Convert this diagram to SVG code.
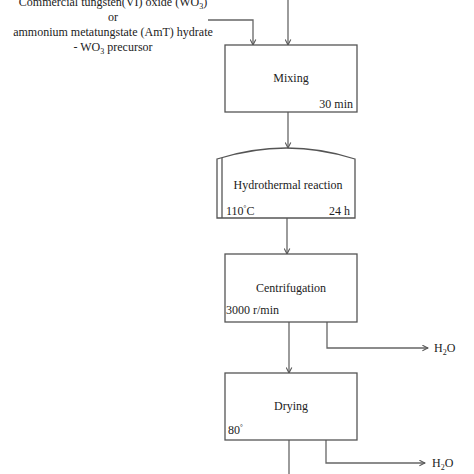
<svg xmlns="http://www.w3.org/2000/svg" width="474" height="474" viewBox="0 0 474 474">
<style>
.box{fill:#fff;stroke:#555;stroke-width:1.3}
.ln{fill:none;stroke:#666;stroke-width:1.3}
text{font-family:"Liberation Serif","Times New Roman",serif;font-size:12px;fill:#222}
.c{text-anchor:middle}
.e{text-anchor:end}
</style>
<defs>
<marker id="ah" viewBox="0 0 10 10" refX="9" refY="5" markerWidth="7" markerHeight="7" orient="auto" markerUnits="userSpaceOnUse">
<path d="M1,1 L9,5 L1,9" fill="none" stroke="#555" stroke-width="1.5"/>
</marker>
</defs>
<rect width="474" height="474" fill="#fff"/>
<g id="input">
<text class="c" x="113" y="6">Commercial tungsten(VI) oxide (WO<tspan font-size="8" dy="3">3</tspan><tspan dy="-3">)</tspan></text>
<text class="c" x="113" y="21">or</text>
<text class="c" x="113" y="36">ammonium metatungstate (AmT) hydrate</text>
<text class="c" x="113" y="51">- WO<tspan font-size="8" dy="3">3</tspan><tspan dy="-3"> precursor</tspan></text>
</g>
<g id="connectors">
<path class="ln" d="M208,20 H253 V45" marker-end="url(#ah)"/>
<path class="ln" d="M288,0 V45" marker-end="url(#ah)"/>
<path class="ln" d="M288,112 V148" marker-end="url(#ah)"/>
<path class="ln" d="M287,218 V254" marker-end="url(#ah)"/>
<path class="ln" d="M289,322 V373" marker-end="url(#ah)"/>
<path class="ln" d="M327,322 V348 H428" marker-end="url(#ah)"/>
<path class="ln" d="M289,440 V474"/>
<path class="ln" d="M326,440 V463 H425" marker-end="url(#ah)"/>
</g>
<g id="mixing">
<rect class="box" x="225" y="45" width="132" height="67"/>
<text class="c" x="291" y="82">Mixing</text>
<text class="e" x="353" y="108">30 min</text>
</g>
<g id="hydrothermal">
<path class="box" d="M217,218 V159 Q287,137 355,159 V218 Z"/>
<line class="box" x1="222" y1="158" x2="222" y2="218"/>
<text class="c" x="288" y="189">Hydrothermal reaction</text>
<text x="226" y="215">110<tspan font-size="7" dy="-5">°</tspan><tspan dy="5">C</tspan></text>
<text class="e" x="350" y="215">24 h</text>
</g>
<g id="centrifugation">
<rect class="box" x="225" y="254" width="132" height="68"/>
<text class="c" x="291" y="292">Centrifugation</text>
<text x="226" y="314">3000 r/min</text>
</g>
<g id="drying">
<rect class="box" x="225" y="373" width="132" height="67"/>
<text class="c" x="291" y="410">Drying</text>
<text x="228" y="434">80<tspan font-size="7" dy="-5">°</tspan></text>
</g>
<g id="h2o1"><text x="434" y="352">H<tspan font-size="8" dy="3">2</tspan><tspan dy="-3">O</tspan></text></g>
<g id="h2o2"><text x="432" y="467">H<tspan font-size="8" dy="3">2</tspan><tspan dy="-3">O</tspan></text></g>
</svg>
